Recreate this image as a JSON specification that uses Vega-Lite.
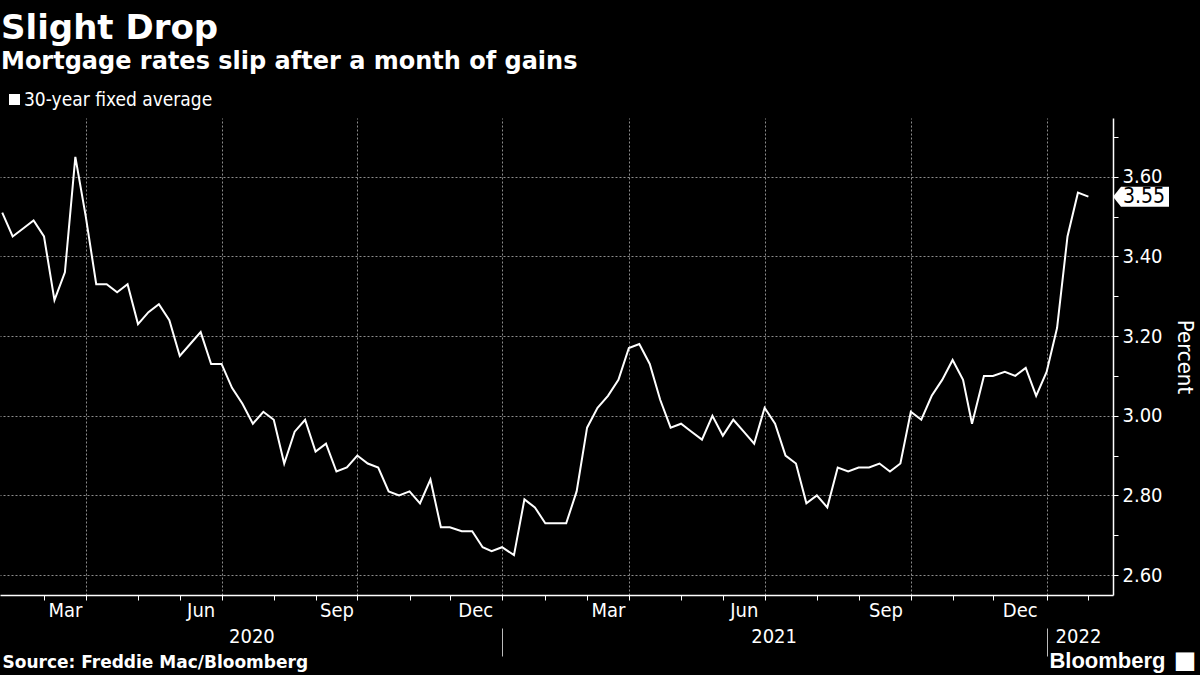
{
  "$schema": "https://vega.github.io/schema/vega-lite/v6.json",
  "width": 1113,
  "height": 477,
  "autosize": {"type": "none"},
  "padding": {"left": 0, "top": 118, "right": 87, "bottom": 80},
  "background": "#000000",
  "config": {"view": {"stroke": null}},
  "title": {
    "text": "Slight Drop",
    "subtitle": "Mortgage rates slip after a month of gains",
    "anchor": "start",
    "frame": "group",
    "font": "DejaVu Sans",
    "fontSize": 34,
    "fontWeight": "bold",
    "color": "#ffffff",
    "subtitleFont": "DejaVu Sans",
    "subtitleFontSize": 24,
    "subtitleFontWeight": "bold",
    "subtitleColor": "#ffffff",
    "subtitlePadding": 4,
    "offset": 16,
    "dx": 1
  },
  "data": {
    "values": [
      {"date": "2020-01-30", "value": 3.51},
      {"date": "2020-02-06", "value": 3.45},
      {"date": "2020-02-13", "value": 3.47},
      {"date": "2020-02-20", "value": 3.49},
      {"date": "2020-02-27", "value": 3.45},
      {"date": "2020-03-05", "value": 3.29},
      {"date": "2020-03-12", "value": 3.36},
      {"date": "2020-03-19", "value": 3.65},
      {"date": "2020-03-26", "value": 3.50},
      {"date": "2020-04-02", "value": 3.33},
      {"date": "2020-04-09", "value": 3.33},
      {"date": "2020-04-16", "value": 3.31},
      {"date": "2020-04-23", "value": 3.33},
      {"date": "2020-04-30", "value": 3.23},
      {"date": "2020-05-07", "value": 3.26},
      {"date": "2020-05-14", "value": 3.28},
      {"date": "2020-05-21", "value": 3.24},
      {"date": "2020-05-28", "value": 3.15},
      {"date": "2020-06-04", "value": 3.18},
      {"date": "2020-06-11", "value": 3.21},
      {"date": "2020-06-18", "value": 3.13},
      {"date": "2020-06-25", "value": 3.13},
      {"date": "2020-07-02", "value": 3.07},
      {"date": "2020-07-09", "value": 3.03},
      {"date": "2020-07-16", "value": 2.98},
      {"date": "2020-07-23", "value": 3.01},
      {"date": "2020-07-30", "value": 2.99},
      {"date": "2020-08-06", "value": 2.88},
      {"date": "2020-08-13", "value": 2.96},
      {"date": "2020-08-20", "value": 2.99},
      {"date": "2020-08-27", "value": 2.91},
      {"date": "2020-09-03", "value": 2.93},
      {"date": "2020-09-10", "value": 2.86},
      {"date": "2020-09-17", "value": 2.87},
      {"date": "2020-09-24", "value": 2.90},
      {"date": "2020-10-01", "value": 2.88},
      {"date": "2020-10-08", "value": 2.87},
      {"date": "2020-10-15", "value": 2.81},
      {"date": "2020-10-22", "value": 2.80},
      {"date": "2020-10-29", "value": 2.81},
      {"date": "2020-11-05", "value": 2.78},
      {"date": "2020-11-12", "value": 2.84},
      {"date": "2020-11-19", "value": 2.72},
      {"date": "2020-11-25", "value": 2.72},
      {"date": "2020-12-03", "value": 2.71},
      {"date": "2020-12-10", "value": 2.71},
      {"date": "2020-12-17", "value": 2.67},
      {"date": "2020-12-23", "value": 2.66},
      {"date": "2020-12-30", "value": 2.67},
      {"date": "2021-01-07", "value": 2.65},
      {"date": "2021-01-14", "value": 2.79},
      {"date": "2021-01-21", "value": 2.77},
      {"date": "2021-01-28", "value": 2.73},
      {"date": "2021-02-04", "value": 2.73},
      {"date": "2021-02-11", "value": 2.73},
      {"date": "2021-02-18", "value": 2.81},
      {"date": "2021-02-25", "value": 2.97},
      {"date": "2021-03-04", "value": 3.02},
      {"date": "2021-03-11", "value": 3.05},
      {"date": "2021-03-18", "value": 3.09},
      {"date": "2021-03-25", "value": 3.17},
      {"date": "2021-04-01", "value": 3.18},
      {"date": "2021-04-08", "value": 3.13},
      {"date": "2021-04-15", "value": 3.04},
      {"date": "2021-04-22", "value": 2.97},
      {"date": "2021-04-29", "value": 2.98},
      {"date": "2021-05-06", "value": 2.96},
      {"date": "2021-05-13", "value": 2.94},
      {"date": "2021-05-20", "value": 3.00},
      {"date": "2021-05-27", "value": 2.95},
      {"date": "2021-06-03", "value": 2.99},
      {"date": "2021-06-10", "value": 2.96},
      {"date": "2021-06-17", "value": 2.93},
      {"date": "2021-06-24", "value": 3.02},
      {"date": "2021-07-01", "value": 2.98},
      {"date": "2021-07-08", "value": 2.90},
      {"date": "2021-07-15", "value": 2.88},
      {"date": "2021-07-22", "value": 2.78},
      {"date": "2021-07-29", "value": 2.80},
      {"date": "2021-08-05", "value": 2.77},
      {"date": "2021-08-12", "value": 2.87},
      {"date": "2021-08-19", "value": 2.86},
      {"date": "2021-08-26", "value": 2.87},
      {"date": "2021-09-02", "value": 2.87},
      {"date": "2021-09-09", "value": 2.88},
      {"date": "2021-09-16", "value": 2.86},
      {"date": "2021-09-23", "value": 2.88},
      {"date": "2021-09-30", "value": 3.01},
      {"date": "2021-10-07", "value": 2.99},
      {"date": "2021-10-14", "value": 3.05},
      {"date": "2021-10-21", "value": 3.09},
      {"date": "2021-10-28", "value": 3.14},
      {"date": "2021-11-04", "value": 3.09},
      {"date": "2021-11-10", "value": 2.98},
      {"date": "2021-11-18", "value": 3.10},
      {"date": "2021-11-24", "value": 3.10},
      {"date": "2021-12-02", "value": 3.11},
      {"date": "2021-12-09", "value": 3.10},
      {"date": "2021-12-16", "value": 3.12},
      {"date": "2021-12-23", "value": 3.05},
      {"date": "2021-12-30", "value": 3.11},
      {"date": "2022-01-06", "value": 3.22},
      {"date": "2022-01-13", "value": 3.45},
      {"date": "2022-01-20", "value": 3.56},
      {"date": "2022-01-27", "value": 3.55}
    ]
  },
  "resolve": {"axis": {"x": "independent", "y": "shared"}},
  "layer": [
    {
      "mark": {"type": "point", "opacity": 0},
      "encoding": {
        "x": {
          "field": "date", "type": "temporal",
          "scale": {"type": "utc", "domain": [{"year": 2020, "month": 1, "date": 28, "hours": 12, "utc": true}, {"year": 2022, "month": 2, "date": 12, "hours": 12, "utc": true}]},
          "axis": {
            "orient": "bottom",
            "values": [
              {"year": 2020, "month": 3, "date": 26, "utc": true},
              {"year": 2020, "month": 6, "date": 25, "utc": true},
              {"year": 2020, "month": 9, "date": 24, "utc": true},
              {"year": 2020, "month": 12, "date": 30, "utc": true},
              {"year": 2021, "month": 3, "date": 25, "utc": true},
              {"year": 2021, "month": 6, "date": 24, "utc": true},
              {"year": 2021, "month": 9, "date": 30, "utc": true},
              {"year": 2021, "month": 12, "date": 30, "utc": true}
            ],
            "grid": true, "gridColor": "#8c8c8c", "gridDash": [2, 2], "gridWidth": 1,
            "ticks": false, "labels": false, "domain": false, "title": null
          }
        }
      }
    },
    {
      "mark": {"type": "line", "strokeWidth": 2},
      "encoding": {
        "x": {
          "field": "date", "type": "temporal",
          "scale": {"type": "utc", "domain": [{"year": 2020, "month": 1, "date": 28, "hours": 12, "utc": true}, {"year": 2022, "month": 2, "date": 12, "hours": 12, "utc": true}]},
          "axis": {
            "orient": "bottom",
            "values": [
              {"year": 2020, "month": 2, "date": 27, "utc": true},
              {"year": 2020, "month": 3, "date": 26, "utc": true},
              {"year": 2020, "month": 4, "date": 30, "utc": true},
              {"year": 2020, "month": 5, "date": 28, "utc": true},
              {"year": 2020, "month": 6, "date": 25, "utc": true},
              {"year": 2020, "month": 7, "date": 30, "utc": true},
              {"year": 2020, "month": 8, "date": 27, "utc": true},
              {"year": 2020, "month": 9, "date": 24, "utc": true},
              {"year": 2020, "month": 10, "date": 29, "utc": true},
              {"year": 2020, "month": 11, "date": 25, "utc": true},
              {"year": 2020, "month": 12, "date": 30, "utc": true},
              {"year": 2021, "month": 1, "date": 28, "utc": true},
              {"year": 2021, "month": 2, "date": 25, "utc": true},
              {"year": 2021, "month": 3, "date": 25, "utc": true},
              {"year": 2021, "month": 4, "date": 29, "utc": true},
              {"year": 2021, "month": 5, "date": 27, "utc": true},
              {"year": 2021, "month": 6, "date": 24, "utc": true},
              {"year": 2021, "month": 7, "date": 29, "utc": true},
              {"year": 2021, "month": 8, "date": 26, "utc": true},
              {"year": 2021, "month": 9, "date": 30, "utc": true},
              {"year": 2021, "month": 10, "date": 28, "utc": true},
              {"year": 2021, "month": 11, "date": 24, "utc": true},
              {"year": 2021, "month": 12, "date": 30, "utc": true},
              {"year": 2022, "month": 1, "date": 27, "utc": true}
            ],
            "grid": false, "labels": false, "ticks": true, "tickSize": 5, "tickColor": "#ffffff", "tickWidth": 1,
            "domain": true, "domainColor": "#ffffff", "domainWidth": 1.5, "title": null
          }
        },
        "y": {
          "field": "value", "type": "quantitative",
          "scale": {"domain": [2.55, 3.7474], "nice": false, "zero": false},
          "axis": {
            "orient": "right",
            "values": [2.6, 2.7, 2.8, 2.9, 3.0, 3.1, 3.2, 3.3, 3.4, 3.5, 3.6, 3.7],
            "labelExpr": "round(datum.value*10) % 2 == 0 ? format(datum.value, '.2f') : ''",
            "grid": true,
            "gridOpacity": {"condition": {"test": "round(datum.value*10) % 2 == 0", "value": 1}, "value": 0},
            "gridColor": "#8c8c8c", "gridDash": [2, 2], "gridWidth": 1,
            "domainColor": "#ffffff", "domainWidth": 1.5,
            "tickColor": "#ffffff", "tickSize": 5,
            "labelColor": "#ffffff", "labelFont": "DejaVu Sans Condensed, Liberation Sans Narrow, Roboto", "labelFontSize": 20,
            "labelPadding": 4, "labelOverlap": false, "labelBound": false,
            "title": "Percent", "titleColor": "#ffffff", "titleFont": "DejaVu Sans Condensed, Liberation Sans Narrow, Roboto",
            "titleFontSize": 22, "titleFontWeight": "normal", "titlePadding": 10
          }
        },
        "color": {
          "datum": "30-year fixed average",
          "scale": {"range": ["#ffffff"]},
          "legend": {
            "orient": "none", "legendX": 5, "legendY": -28, "title": null,
            "symbolType": "square", "symbolSize": 121, "symbolFillColor": "#ffffff", "symbolStrokeColor": "#ffffff", "symbolStrokeWidth": 0,
            "labelColor": "#ffffff", "labelFont": "DejaVu Sans Condensed, Liberation Sans Narrow, Roboto", "labelFontSize": 19, "labelOffset": 0, "labelLimit": 0
          }
        }
      }
    },
    {
      "mark": {"type": "point", "opacity": 0},
      "encoding": {
        "x": {
          "field": "date", "type": "temporal",
          "scale": {"type": "utc", "domain": [{"year": 2020, "month": 1, "date": 28, "hours": 12, "utc": true}, {"year": 2022, "month": 2, "date": 12, "hours": 12, "utc": true}]},
          "axis": {
            "orient": "bottom",
            "values": [
              {"year": 2020, "month": 3, "date": 12, "utc": true},
              {"year": 2020, "month": 6, "date": 11, "utc": true},
              {"year": 2020, "month": 9, "date": 10, "utc": true},
              {"year": 2020, "month": 12, "date": 12, "utc": true},
              {"year": 2021, "month": 3, "date": 11, "utc": true},
              {"year": 2021, "month": 6, "date": 10, "utc": true},
              {"year": 2021, "month": 9, "date": 13, "utc": true},
              {"year": 2021, "month": 12, "date": 12, "utc": true}
            ],
            "labelExpr": "utcFormat(datum.value, '%b')",
            "ticks": false, "tickSize": 0, "domain": false, "grid": false,
            "labelPadding": 5, "labelFontSize": 20, "labelColor": "#ffffff",
            "labelFont": "DejaVu Sans Condensed, Liberation Sans Narrow, Roboto", "labelOverlap": false, "labelBound": false, "labelFlush": false,
            "title": "Bloomberg", "titleX": 1165, "titleY": 72, "titleAlign": "right", "titleBaseline": "alphabetic",
            "titleFont": "Liberation Sans", "titleFontSize": 22, "titleFontWeight": "bold", "titleColor": "#ffffff"
          }
        }
      }
    },
    {
      "mark": {"type": "point", "opacity": 0},
      "encoding": {
        "x": {
          "field": "date", "type": "temporal",
          "scale": {"type": "utc", "domain": [{"year": 2020, "month": 1, "date": 28, "hours": 12, "utc": true}, {"year": 2022, "month": 2, "date": 12, "hours": 12, "utc": true}]},
          "axis": {
            "orient": "bottom",
            "values": [
              {"year": 2020, "month": 7, "date": 15, "utc": true},
              {"year": 2021, "month": 6, "date": 30, "utc": true},
              {"year": 2022, "month": 1, "date": 20, "utc": true}
            ],
            "labelExpr": "utcFormat(datum.value, '%Y')",
            "ticks": false, "tickSize": 0, "domain": false, "grid": false,
            "labelPadding": 31, "labelFontSize": 20, "labelColor": "#ffffff",
            "labelFont": "DejaVu Sans Condensed, Liberation Sans Narrow, Roboto", "labelOverlap": false, "labelBound": false, "labelFlush": false,
            "title": "Source: Freddie Mac/Bloomberg", "titleX": 2, "titleY": 72, "titleAlign": "left", "titleBaseline": "alphabetic",
            "titleFont": "DejaVu Sans", "titleFontSize": 17, "titleFontWeight": "bold", "titleColor": "#ffffff"
          }
        }
      }
    },
    {
      "mark": {"type": "point", "opacity": 0},
      "encoding": {
        "x": {
          "field": "date", "type": "temporal",
          "scale": {"type": "utc", "domain": [{"year": 2020, "month": 1, "date": 28, "hours": 12, "utc": true}, {"year": 2022, "month": 2, "date": 12, "hours": 12, "utc": true}]},
          "axis": {
            "orient": "bottom",
            "offset": 33,
            "values": [
              {"year": 2020, "month": 12, "date": 30, "utc": true},
              {"year": 2021, "month": 12, "date": 30, "utc": true}
            ],
            "labels": false, "ticks": true, "tickSize": 28, "tickColor": "#bbbbbb", "tickWidth": 1,
            "domain": false, "grid": false,
            "title": "■", "titleX": 1196, "titleY": 39, "titleAlign": "right", "titleBaseline": "alphabetic",
            "titleFont": "DejaVu Sans", "titleFontSize": 24, "titleFontWeight": "normal", "titleColor": "#ffffff"
          }
        }
      }
    },
    {
      "transform": [{"filter": "utcyear(datum.date) == 2022 && utcmonth(datum.date) == 0 && utcdate(datum.date) == 27"}],
      "mark": {"type": "point", "shape": "M0,0L0.8,-1L5.6,-1L5.6,1L0.8,1Z", "size": 400, "filled": true, "fill": "#ffffff", "opacity": 1, "strokeWidth": 0},
      "encoding": {
        "x": {"value": "width"},
        "y": {"field": "value", "type": "quantitative", "scale": {"domain": [2.55, 3.7474], "nice": false, "zero": false}}
      }
    },
    {
      "transform": [{"filter": "utcyear(datum.date) == 2022 && utcmonth(datum.date) == 0 && utcdate(datum.date) == 27"}],
      "mark": {"type": "text", "dx": 31, "align": "center", "baseline": "middle", "fontSize": 21, "font": "DejaVu Sans Condensed, Liberation Sans Narrow, Roboto", "color": "#000000"},
      "encoding": {
        "x": {"value": "width"},
        "y": {"field": "value", "type": "quantitative", "scale": {"domain": [2.55, 3.7474], "nice": false, "zero": false}},
        "text": {"field": "value", "type": "quantitative", "format": ".2f"}
      }
    }
  ]
}
